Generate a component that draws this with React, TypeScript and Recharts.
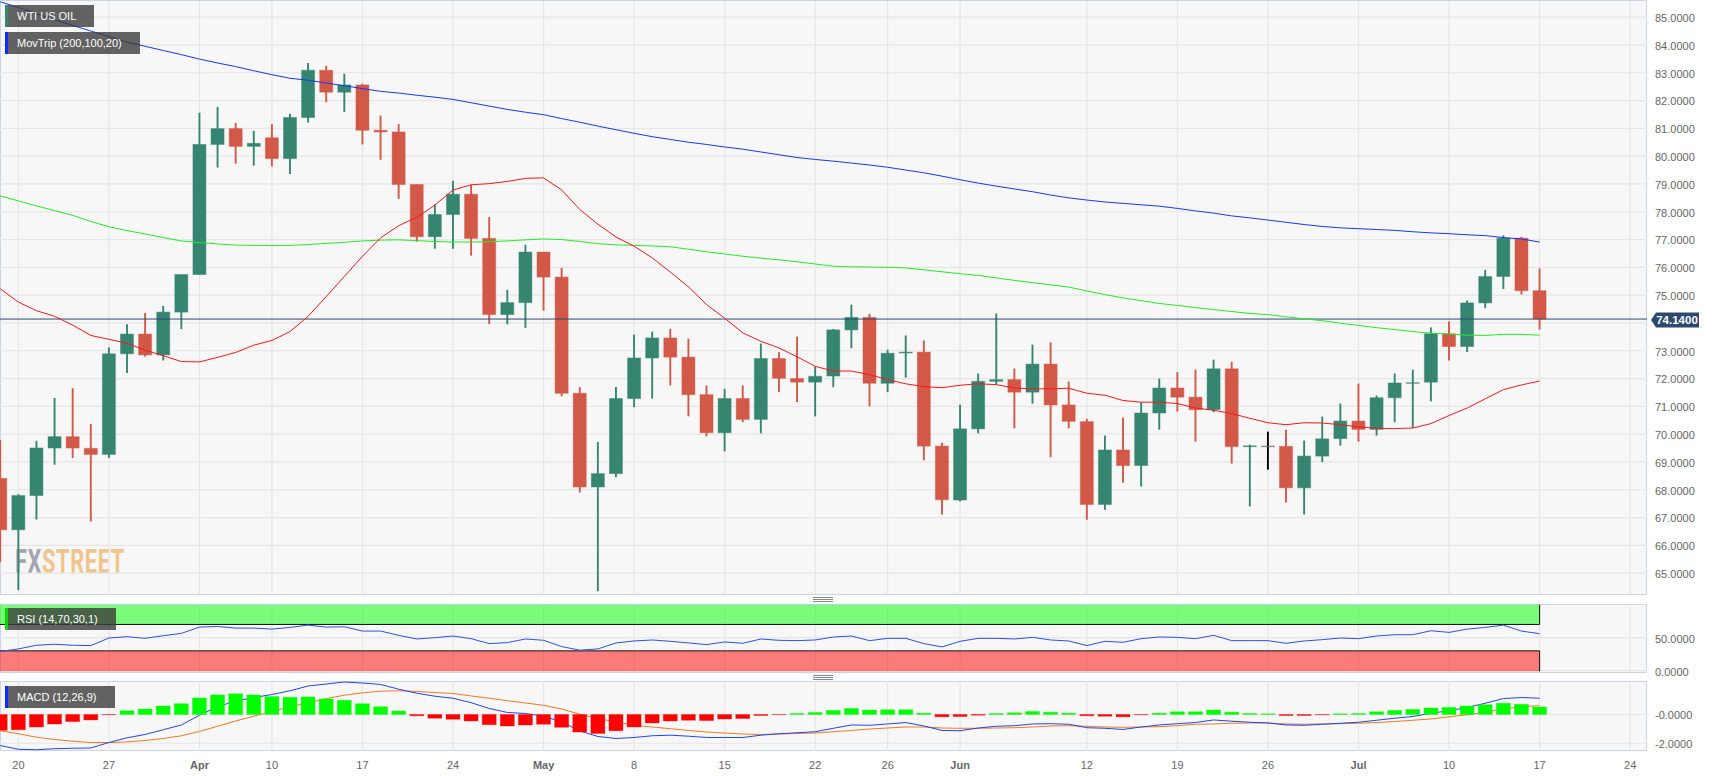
import React from "react";
import { ComposedChart, Bar, Line, XAxis, YAxis, CartesianGrid, ReferenceLine, ReferenceArea, Cell } from "recharts";

const opens = [68.41,66.56,67.79,69.5,69.91,69.49,69.27,72.89,73.6,72.85,74.39,75.74,80.42,80.99,80.35,80.66,79.91,81.39,83.09,82.3,82.56,80.93,80.87,78.98,77.1,77.9,78.63,77.04,74.3,74.73,76.55,75.65,71.47,68.1,68.58,71.28,72.74,73.46,72.77,71.42,70.05,71.28,70.53,72.72,72.0,71.87,72.09,73.75,74.2,71.83,72.92,72.95,69.57,67.63,70.19,71.9,71.96,71.51,72.52,71.05,70.45,67.47,69.43,68.87,70.76,71.66,71.33,70.88,72.35,69.55,69.57,69.56,68.07,69.21,69.84,70.47,70.17,71.31,71.83,71.87,73.61,73.15,74.72,75.67,77.05,75.16];
const closes = [66.56,67.79,69.5,69.91,69.5,69.27,72.89,73.6,72.85,74.39,75.74,80.42,80.99,80.35,80.46,79.91,81.39,83.09,82.3,82.56,80.93,80.87,78.98,77.1,77.9,78.63,77.04,74.3,74.73,76.55,75.65,71.47,68.1,68.58,71.28,72.74,73.46,72.77,71.42,70.05,71.28,70.53,72.72,72.01,71.87,72.08,73.75,74.2,71.83,72.91,72.95,69.57,67.64,70.19,71.9,71.96,71.51,72.52,71.05,70.46,67.47,69.43,68.87,70.76,71.66,71.33,70.88,72.35,69.55,69.58,69.57,68.07,69.21,69.83,70.47,70.17,71.31,71.84,71.85,73.61,73.15,74.72,75.67,77.05,75.16,74.14];
const highs = [69.79,67.84,69.76,71.3,71.65,70.37,73.12,73.95,74.36,74.61,75.74,81.56,81.77,81.19,80.91,81.15,81.52,83.35,83.25,82.96,82.6,81.46,81.15,78.98,78.26,79.11,78.98,77.81,75.19,76.81,76.55,75.98,71.69,69.72,71.7,73.58,73.69,73.79,73.43,71.75,71.63,71.75,73.26,72.95,73.51,72.44,73.78,74.66,74.33,73.04,73.55,73.37,69.69,71.06,72.18,74.34,72.36,73.22,73.3,71.89,70.55,69.95,70.59,71.15,72.0,72.23,72.32,72.68,72.6,69.62,70.09,70.16,69.77,70.63,71.1,71.82,71.39,72.18,72.32,73.84,74.05,74.81,75.91,77.15,77.1,75.96];
const lows = [65.39,64.39,66.93,68.9,69.14,66.86,69.14,72.2,72.79,72.65,73.78,75.74,79.59,79.73,79.66,79.63,79.36,81.21,81.94,81.59,80.42,79.87,78.46,76.92,76.67,76.67,76.42,73.96,73.95,73.82,74.44,71.36,67.9,64.35,68.45,70.97,71.28,71.75,70.64,69.92,69.38,70.43,70.03,71.51,71.15,70.64,71.69,73.09,71.0,71.51,72.03,69.06,67.11,67.58,70.03,71.78,70.21,71.1,69.17,70.21,66.92,67.28,68.25,68.12,70.16,70.81,69.73,70.79,68.94,67.4,68.72,67.54,67.11,68.99,69.59,69.73,69.95,70.43,70.22,71.18,72.65,72.95,74.53,75.22,75.02,73.76];
const ma200 = [85.55,85.35,85.12,84.9,84.7,84.5,84.3,84.1,83.95,83.8,83.65,83.49,83.35,83.22,83.07,82.93,82.8,82.73,82.63,82.53,82.43,82.33,82.27,82.19,82.12,82.04,81.92,81.8,81.68,81.58,81.49,81.35,81.22,81.08,80.95,80.82,80.7,80.6,80.5,80.42,80.33,80.25,80.15,80.05,79.95,79.88,79.82,79.75,79.68,79.6,79.5,79.4,79.28,79.15,79.03,78.92,78.82,78.72,78.6,78.5,78.42,78.35,78.3,78.25,78.2,78.12,78.03,77.95,77.85,77.78,77.7,77.62,77.54,77.47,77.42,77.39,77.36,77.33,77.28,77.24,77.21,77.17,77.14,77.07,77.02,76.91];
const ma100 = [78.57,78.39,78.21,78.04,77.87,77.65,77.46,77.32,77.2,77.07,76.95,76.89,76.84,76.8,76.79,76.78,76.79,76.82,76.86,76.9,76.95,76.98,76.99,76.96,76.93,76.91,76.91,76.92,76.95,76.99,77.02,77.0,76.93,76.85,76.81,76.79,76.77,76.74,76.65,76.56,76.48,76.4,76.33,76.27,76.2,76.12,76.04,76.02,76.01,76.0,75.98,75.91,75.84,75.77,75.71,75.62,75.53,75.45,75.37,75.29,75.15,75.02,74.9,74.8,74.7,74.63,74.55,74.48,74.41,74.34,74.3,74.22,74.15,74.08,73.99,73.91,73.83,73.76,73.69,73.63,73.6,73.56,73.55,73.59,73.59,73.56];
const ma20 = [75.23,74.75,74.44,74.24,73.92,73.55,73.41,73.27,73.02,72.82,72.61,72.6,72.76,72.94,73.2,73.37,73.69,74.24,74.95,75.67,76.4,77.06,77.5,77.8,78.24,78.78,78.97,79.01,79.09,79.2,79.22,78.78,78.08,77.55,77.09,76.76,76.34,75.83,75.3,74.66,74.17,73.64,73.34,73.1,72.78,72.44,72.27,72.27,72.14,71.96,71.81,71.71,71.67,71.76,71.81,71.78,71.66,71.63,71.63,71.65,71.47,71.4,71.21,71.15,71.15,71.1,70.94,70.86,70.74,70.57,70.41,70.34,70.41,70.4,70.34,70.26,70.21,70.2,70.22,70.38,70.67,70.94,71.27,71.6,71.77,71.91];
const rsi = [29,33,38.5,40,38.5,38,49.5,51.5,49,53,56.5,66,67,64.5,64.5,63,65.5,69,66,66.5,60,60,53.5,48,50,52.5,48.5,41,42.5,48,46,36.5,31,33,42,45,46.5,44.5,42,39.5,43.5,41.5,48,46,45.5,46.5,51,52.5,45.5,49,49,41,36,44.5,49,49,48,50.5,46.5,45,38,44.5,43,48.5,51,50.5,48.5,53.5,45.5,45.5,45.5,41.5,45,47,49.5,48.5,52.5,54.5,54.5,60.5,58,63,65.5,69,60,56];
const macdLine = [-2.16,-2.42,-2.45,-2.38,-2.35,-2.33,-1.95,-1.62,-1.39,-1.06,-0.73,-0.05,0.54,0.94,1.18,1.39,1.65,1.98,2.12,2.26,2.19,2.09,1.76,1.48,1.27,1.13,0.82,0.42,0.14,0.07,-0.12,-0.52,-1.15,-1.53,-1.67,-1.6,-1.48,-1.44,-1.51,-1.6,-1.6,-1.6,-1.44,-1.34,-1.27,-1.2,-0.96,-0.73,-0.75,-0.66,-0.56,-0.8,-1.11,-1.13,-0.94,-0.82,-0.78,-0.66,-0.64,-0.68,-0.92,-0.96,-1.04,-0.87,-0.73,-0.64,-0.56,-0.38,-0.47,-0.54,-0.59,-0.73,-0.75,-0.68,-0.61,-0.54,-0.4,-0.26,-0.14,0.09,0.26,0.49,0.78,1.11,1.18,1.13];
const signalLine = [-1.13,-1.34,-1.58,-1.74,-1.86,-1.95,-1.95,-1.91,-1.81,-1.67,-1.48,-1.18,-0.82,-0.45,-0.12,0.21,0.54,0.8,1.11,1.34,1.51,1.62,1.65,1.6,1.53,1.46,1.29,1.13,0.96,0.8,0.64,0.38,0.02,-0.28,-0.52,-0.75,-0.87,-0.99,-1.11,-1.22,-1.29,-1.36,-1.39,-1.36,-1.32,-1.29,-1.2,-1.11,-1.01,-0.94,-0.87,-0.87,-0.94,-0.96,-0.96,-0.94,-0.92,-0.87,-0.8,-0.78,-0.82,-0.87,-0.89,-0.87,-0.85,-0.78,-0.68,-0.66,-0.61,-0.59,-0.59,-0.66,-0.68,-0.66,-0.64,-0.61,-0.56,-0.49,-0.4,-0.31,-0.16,-0.02,0.16,0.38,0.54,0.61];
const macdHist = [-1.1,-1.06,-0.87,-0.66,-0.49,-0.38,-0.02,0.26,0.38,0.59,0.75,1.15,1.36,1.44,1.36,1.25,1.2,1.22,1.08,0.99,0.75,0.54,0.24,-0.09,-0.26,-0.33,-0.45,-0.71,-0.8,-0.73,-0.68,-0.89,-1.22,-1.32,-1.13,-0.87,-0.59,-0.45,-0.4,-0.42,-0.31,-0.28,-0.07,-0.01,0.07,0.14,0.28,0.42,0.31,0.33,0.33,0.09,-0.16,-0.14,-0.05,0.07,0.12,0.21,0.16,0.09,-0.09,-0.12,-0.16,-0.02,0.09,0.19,0.19,0.31,0.16,0.07,0.05,-0.07,-0.07,-0.02,0.05,0.07,0.19,0.28,0.35,0.45,0.49,0.59,0.68,0.78,0.71,0.52];

const xTickIndex = [1,6,11,15,20,25,30,35,40,45,49,53,60,65,70,75,80,85,90];
const xTickLabels = ["20","27","Apr","10","17","24","May","8","15","22","26","Jun","12","19","26","Jul","10","17","24"];
const priceTicks = [65,66,67,68,69,70,71,72,73,74,75,76,77,78,79,80,81,82,83,84,85];
const rsiTicks = [0,50];
const macdTicks = [-2,-0.00001];
const lastPrice = 74.14;

const priceData = opens.map((o, i) => ({
  i, open: o, close: closes[i], high: highs[i], low: lows[i],
  ma200: ma200[i], ma100: ma100[i], ma20: ma20[i],
}));
const rsiData = rsi.map((v, i) => ({ i, rsi: v }));
const macdData = macdHist.map((v, i) => ({ i, hist: v, macd: macdLine[i], signal: signalLine[i] }));

const X_DOMAIN: [number, number] = [-0.016, 90.93];
const FONT = '"Liberation Sans", Arial, sans-serif';
const UP = "#358571";
const DOWN = "#D25847";
const GRID = "#e6e6e6";
const BORDER = "#ccd3e6";
const W = 1724;
const AXIS_W = 77;

function Candle(props: any) {
  const { x, y, width, height, payload } = props;
  const { open, close, high, low } = payload;
  const ppu = height / Math.max(high - low, 0.0001);
  const cx = x + width / 2;
  const yOf = (p: number) => y + (high - p) * ppu;
  const top = yOf(Math.max(open, close));
  const bot = yOf(Math.min(open, close));
  const color = close > open ? UP : close < open ? DOWN : "#000";
  const bodyColor = close === open ? "#666" : color;
  return (
    <g>
      <line x1={cx} x2={cx} y1={y} y2={y + height} stroke={color} strokeWidth={1.9} />
      <rect x={x + 0.5} y={top} width={width - 1} height={Math.max(bot - top, 0.6)}
        fill={bodyColor} stroke={bodyColor} strokeOpacity={0.45} strokeWidth={1} />
    </g>
  );
}

function PriceTag(props: any) {
  const { viewBox } = props;
  const r = viewBox.x + viewBox.width;
  const y = viewBox.y;
  return (
    <g>
      <polygon points={`${r + 4},${y + 1} ${r + 9},${y - 6.5} ${r + 52},${y - 6.5} ${r + 52},${y + 8.5} ${r + 9},${y + 8.5}`} fill="#2c4a70" />
      <text x={r + 30} y={y + 5} textAnchor="middle" fontFamily={FONT} fontSize={11.5} fontWeight={700} fill="#fff">74.1400</text>
    </g>
  );
}

function DateTick(props: any) {
  const { x, y, payload } = props;
  const label = xTickLabels[xTickIndex.indexOf(payload.value)];
  const isMonth = /[A-Za-z]/.test(label);
  return (
    <text x={x} y={y + 2} textAnchor="middle" fontFamily={FONT} fontSize={11} fontWeight={isMonth ? 700 : 400} fill="#666">
      {label}
    </text>
  );
}

const NoTick = () => <g />;

function Pane({ top, height }: { top: number; height: number }) {
  return (
    <div style={{ position: "absolute", left: 0, top, width: W - AXIS_W, height, boxSizing: "border-box",
      background: "#f7f7f7", border: `1px solid ${BORDER}` }} />
  );
}

function Legend({ top, width, text, stripe }: { top: number; width: number; text: string; stripe: string }) {
  return (
    <div style={{ position: "absolute", left: 5, top, width, height: 22, background: "rgba(60,60,60,0.8)",
      color: "#fff", fontFamily: FONT, fontSize: 11, lineHeight: "23px", boxSizing: "border-box", paddingLeft: 12 }}>
      <div style={{ position: "absolute", left: 0, top: 0, width: 3, height: 22, background: stripe }} />
      {text}
    </div>
  );
}

function Handle({ top }: { top: number }) {
  return (
    <div style={{ position: "absolute", left: 813, top, width: 20, height: 5, boxSizing: "border-box",
      borderTop: "1px solid #888", borderBottom: "1px solid #888" }}>
      <div style={{ height: 1, marginTop: 1, background: "#888" }} />
    </div>
  );
}

const yTick = { fontFamily: FONT, fontSize: 11, fill: "#666", dy: 1 };
const fmt = (v: number) => (v === 74 ? "" : v.toFixed(4));

export default function App() {
  return (
    <div style={{ position: "absolute", left: 0, top: 0, width: W, height: 776, background: "#fff", overflow: "hidden" }}>
      <Pane top={0} height={595} />
      <Pane top={604} height={69} />
      <Pane top={681} height={70} />
      <div style={{ position: "absolute", left: 15, top: 545, fontFamily: '"Roboto", sans-serif', fontWeight: 700,
        fontSize: 34, lineHeight: "32px", whiteSpace: "nowrap", transform: "scaleX(0.64)", transformOrigin: "0 0", letterSpacing: 1 }}>
        <span style={{ color: "#a3a6b0" }}>FX</span><span style={{ color: "#f0c48c" }}>STREET</span>
      </div>

      <div style={{ position: "absolute", left: 0, top: 0 }}>
        <ComposedChart width={W} height={595} data={priceData} margin={{ top: 1, right: 0, bottom: 1, left: 0 }}>
          <CartesianGrid stroke={GRID} strokeWidth={1.2} horizontalValues={priceTicks} verticalValues={xTickIndex} />
          <XAxis dataKey="i" type="number" scale="linear" domain={X_DOMAIN} ticks={xTickIndex} interval={0} allowDataOverflow
            height={0} tick={NoTick} axisLine={false} tickLine={false} />
          <YAxis orientation="right" width={AXIS_W} domain={[64.25, 85.58]} allowDataOverflow ticks={priceTicks} interval={0}
            tickFormatter={fmt} tick={yTick} axisLine={false} tickLine={false} tickMargin={2} />
          <ReferenceLine y={lastPrice} stroke="#2c4a70" strokeWidth={1} label={<PriceTag />} />
          <Bar dataKey={(d: any) => [d.low, d.high]} barSize={14} shape={<Candle />} isAnimationActive={false} />
          <Line dataKey="ma100" stroke="#22ee22" strokeWidth={1} dot={false} isAnimationActive={false} />
          <Line dataKey="ma200" stroke="#1538f5" strokeWidth={1} dot={false} isAnimationActive={false} />
          <Line dataKey="ma20" stroke="#ff1515" strokeWidth={1} dot={false} isAnimationActive={false} />
        </ComposedChart>
      </div>

      <div style={{ position: "absolute", left: 0, top: 604 }}>
        <ComposedChart width={W} height={84} data={rsiData} margin={{ top: 0, right: 0, bottom: 16, left: 0 }}>
          <CartesianGrid stroke={GRID} strokeWidth={1.2} horizontalValues={rsiTicks} verticalValues={xTickIndex} />
          <XAxis dataKey="i" type="number" scale="linear" domain={X_DOMAIN} ticks={xTickIndex} interval={0} allowDataOverflow
            height={0} tick={NoTick} axisLine={false} tickLine={false} />
          <YAxis orientation="right" width={AXIS_W} domain={[-2, 101]} allowDataOverflow ticks={rsiTicks} interval={0}
            tickFormatter={fmt} tick={yTick} axisLine={false} tickLine={false} tickMargin={2} />
          <ReferenceArea x1={X_DOMAIN[0]} x2={85} y1={70} y2={100} fill="#00ff00" fillOpacity={0.5} stroke="none" />
          <ReferenceArea x1={X_DOMAIN[0]} x2={85} y1={-1} y2={30} fill="#ff0000" fillOpacity={0.5} stroke="none" />
          <ReferenceLine segment={[{ x: X_DOMAIN[0], y: 70 }, { x: 85, y: 70 }]} stroke="#111" strokeWidth={1} />
          <ReferenceLine segment={[{ x: X_DOMAIN[0], y: 30 }, { x: 85, y: 30 }]} stroke="#111" strokeWidth={1} />
          <ReferenceLine segment={[{ x: 85, y: 70 }, { x: 85, y: 100 }]} stroke="#111" strokeWidth={1} />
          <ReferenceLine segment={[{ x: 85, y: -1 }, { x: 85, y: 30 }]} stroke="#111" strokeWidth={1} />
          <Line dataKey="rsi" stroke="#2a50ee" strokeWidth={1} dot={false} isAnimationActive={false} />
        </ComposedChart>
      </div>

      <div style={{ position: "absolute", left: 0, top: 681 }}>
        <ComposedChart width={W} height={95} data={macdData} margin={{ top: 0, right: 0, bottom: 0, left: 0 }}>
          <CartesianGrid stroke={GRID} strokeWidth={1.2} horizontalValues={macdTicks} verticalValues={xTickIndex} />
          <XAxis dataKey="i" type="number" scale="linear" domain={X_DOMAIN} ticks={xTickIndex} interval={0} allowDataOverflow
            height={25} tick={<DateTick />} axisLine={false} tickLine={false} tickSize={0} tickMargin={16} />
          <YAxis orientation="right" width={AXIS_W} domain={[-2.54, 2.33]} allowDataOverflow ticks={macdTicks} interval={0}
            tickFormatter={fmt} tick={yTick} axisLine={false} tickLine={false} tickMargin={2} />
          <Line dataKey="signal" stroke="#f5791f" strokeWidth={1} dot={false} isAnimationActive={false} />
          <Line dataKey="macd" stroke="#1f45f0" strokeWidth={1} dot={false} isAnimationActive={false} />
          <Bar dataKey="hist" barSize={14} isAnimationActive={false} zIndex={500}>
            {macdHist.map((v, i) => (
              <Cell key={i} fill={v >= 0 ? "#00ff00" : "#ff0000"} stroke={v >= 0 ? "#00ff00" : "#ff0000"} strokeOpacity={0.35} />
            ))}
          </Bar>
        </ComposedChart>
      </div>

      <Handle top={597} />
      <Handle top={675} />
      <Legend top={5} width={89} text="WTI US OIL" stripe={UP} />
      <Legend top={32} width={135} text="MovTrip (200,100,20)" stripe="#0a2cff" />
      <Legend top={608} width={111} text="RSI (14,70,30,1)" stripe="#00dd00" />
      <Legend top={686} width={110} text="MACD (12,26,9)" stripe="#0a2cff" />
    </div>
  );
}
